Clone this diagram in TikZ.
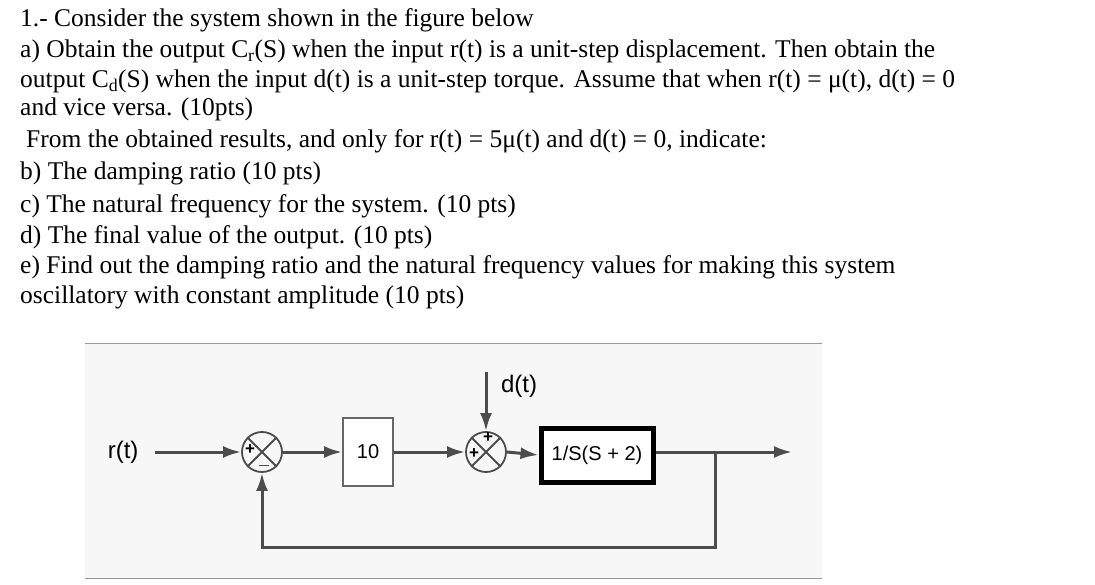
\documentclass[tikz,border=0pt]{standalone}
\usepackage{fontspec}
\setmainfont{Liberation Serif}
\newfontfamily\diagfont{Liberation Sans}
\usetikzlibrary{arrows.meta}
\begin{document}
\begin{tikzpicture}[x=1pt,y=-1pt,
  txt/.style={anchor=base west,inner sep=0pt,font=\fontsize{25.5}{28}\selectfont},
  sumj/.style={circle,draw=black!70,line width=1.8pt,minimum size=40pt,inner sep=0pt},
  blk/.style={draw=black!60,line width=1.8pt,fill=white,font=\diagfont\fontsize{20}{22}\selectfont},
  sig/.style={draw=black!70,line width=3pt,-{Latex[length=18pt,width=12pt]}},
  pm/.style={font=\diagfont\bfseries\fontsize{17}{17}\selectfont,inner sep=0pt},
  frame/.style={draw=black!40,line width=1pt}]
\useasboundingbox (0,0) rectangle (1095,585);
\node[txt] (l1) at (20,27) {1.- Consider the system shown in the figure below};
\node[txt] (l2) at (20,58) {a) Obtain the output C\textsubscript{r}(S) when the input r(t) is a unit-step displacement. Then obtain the};
\node[txt] (l3) at (20,88) {output C\textsubscript{d}(S) when the input d(t) is a unit-step torque. Assume that when r(t) = μ(t), d(t) = 0};
\node[txt] (l4) at (20,116) {and vice versa. (10pts)};
\node[txt] (l5) at (26,148) {From the obtained results, and only for r(t) = 5μ(t) and d(t) = 0, indicate:};
\node[txt] (l6) at (20,180) {b) The damping ratio (10 pts)};
\node[txt] (l7) at (20,213) {c) The natural frequency for the system. (10 pts)};
\node[txt] (l8) at (20,244) {d) The final value of the output. (10 pts)};
\node[txt] (l9) at (20,274) {e) Find out the damping ratio and the natural frequency values for making this system};
\node[txt] (l10) at (20,304) {oscillatory with constant amplitude (10 pts)};
% frame
\fill[black!3] (85,343) rectangle (822,578);
\draw[frame] (85,343) -- (822,343);
\draw[frame] (85,578) -- (822,578);
% diagram
\node[font=\diagfont\fontsize{24}{26}\selectfont,anchor=east] (r) at (142,452) {r(t)};
\node[sumj] (s1) at (262,452) {};
\draw[black!70,line width=1.8pt] (s1.north west) -- (s1.south east) (s1.north east) -- (s1.south west);
\node[pm] at (250,450) {+};
\node[pm] at (264,466) {$-$};
\node[blk,minimum width=50pt,minimum height=68pt] (k) at (368,452) {10};
\node[sumj] (s2) at (486,452) {};
\draw[black!70,line width=1.8pt] (s2.north west) -- (s2.south east) (s2.north east) -- (s2.south west);
\node[pm] at (474,454) {+};
\node[pm] at (488,438) {+};
\node[draw=black,line width=5pt,minimum width=112pt,minimum height=54pt,fill=white,font=\diagfont\fontsize{20}{22}\selectfont] (g) at (597,455) {1/S(S + 2)};
\coordinate (dtop) at (486,372);
\node[font=\diagfont\fontsize{24}{26}\selectfont] (d) at (519,386) {d(t)};
\coordinate (tap) at (715,452);
\coordinate (out) at (792,452);
\coordinate (fb1) at (715,547);
\coordinate (fb2) at (262,547);
\coordinate (rs) at (155,452);
\draw[sig] (rs) -- (s1.west);
\draw[sig] (s1.east) -- (k.west);
\draw[sig] (k.east) -- (s2.west);
\draw[sig] (dtop) -- (s2.north);
\draw[sig] (s2.east) -- (g.west);
\draw[sig] (g.east |- tap) -- (out);
\draw[sig] (tap) -- (fb1) -- (fb2) -- (s1.south);
\end{tikzpicture}
\end{document}
